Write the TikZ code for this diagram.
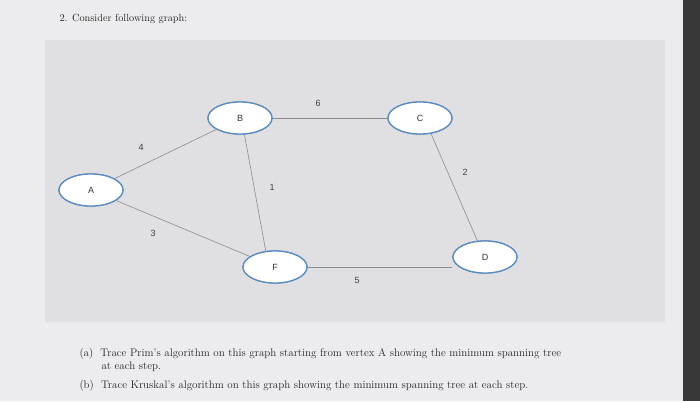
\documentclass[tikz,border=0pt]{standalone}
\usepackage{fontspec}
\setsansfont{Liberation Sans}
\usetikzlibrary{shapes.geometric}
\definecolor{pg}{HTML}{ECECEE}
\definecolor{panel}{HTML}{E0E0E3}
\definecolor{nodeblue}{HTML}{5A8CC0}
\definecolor{edgec}{HTML}{8C8C90}
\tikzset{
  vert/.style={ellipse,draw=nodeblue,line width=1.3pt,fill=white,minimum width=64pt,minimum height=32pt,font=\sffamily\small,text=black!80},
  edg/.style={draw=edgec,line width=0.6pt},
  wlab/.style={font=\sffamily\small,text=black!75},
  txt/.style={font=\fontsize{11}{13}\selectfont,text=black!85,anchor=west}
}
\begin{document}
\begin{tikzpicture}[x=1pt,y=-1pt]
\fill[pg] (0,0) rectangle (683,401);
\fill[black!78] (683,0) rectangle (700,401);
\useasboundingbox (0,0) rectangle (700,401);
\fill[panel] (45,40) rectangle (665,322);
\node[txt,font=\fontsize{10.3}{12}\selectfont] (title) at (56,19) {2. Consider following graph:};
\node[vert] (A) at (91,190) {A};
\node[vert] (B) at (240,118) {B};
\node[vert] (C) at (420,118) {C};
\node[vert] (D) at (485,257) {D};
\node[vert] (F) at (275,267) {F};
\path[edg] (A) -- (B);
\path[edg] (A) -- (F);
\path[edg] (B) -- (C);
\path[edg] (B.-75) -- (F.120);
\path[edg] (C.-55) -- (D.115);
\path[edg] (F.east) -- (F.east -| D.west);
\node[vert] at (A) {A};
\node[vert] at (B) {B};
\node[vert] at (C) {C};
\node[vert] at (D) {D};
\node[vert] at (F) {F};
\node[wlab] (w4) at (141,147) {4};
\node[wlab] (w3) at (153,233) {3};
\node[wlab] (w6) at (318,103) {6};
\node[wlab] (w1) at (272,187) {1};
\node[wlab] (w2) at (465,172) {2};
\node[wlab] (w5) at (357,280) {5};
\node[txt] (pa) at (76,354) {(a)\ \ Trace Prim's algorithm on this graph starting from vertex A showing the minimum spanning tree};
\node[txt] (pa2) at (98,367) {at each step.};
\node[txt] (pb) at (76,386) {(b)\ \ Trace Kruskal's algorithm on this graph showing the minimum spanning tree at each step.};
\end{tikzpicture}
\end{document}
